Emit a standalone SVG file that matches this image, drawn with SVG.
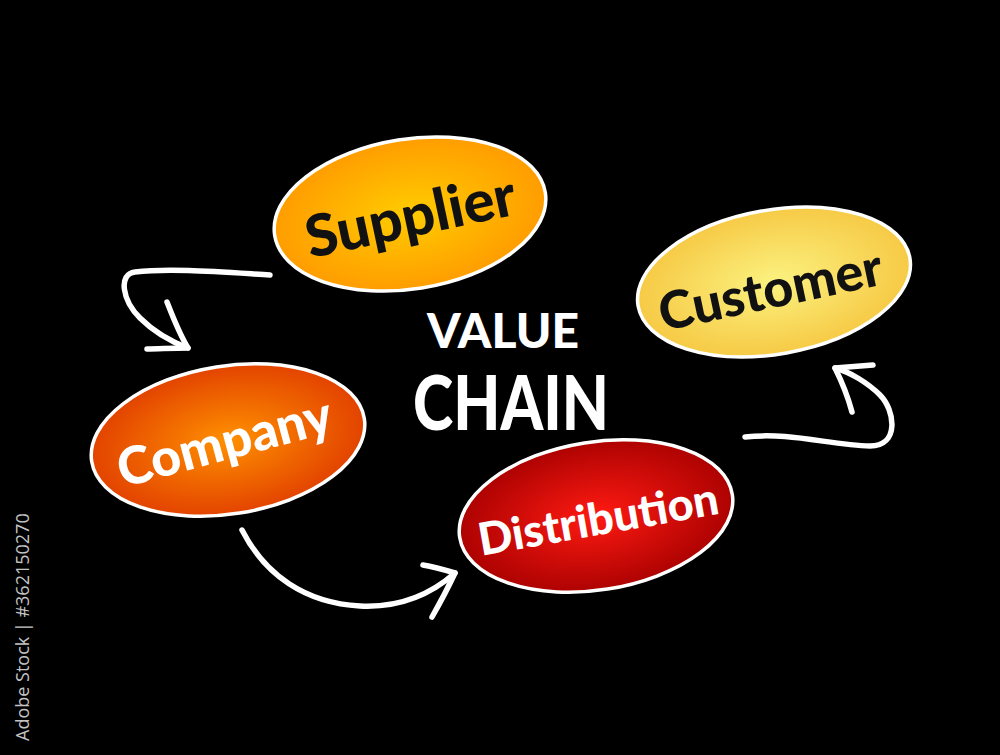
<svg xmlns="http://www.w3.org/2000/svg" width="1000" height="755" viewBox="0 0 1000 755">
<style>
.node-shape{stroke:#fff;stroke-width:3.5}
.lbl{font-family:"Lato","Liberation Sans",sans-serif;font-weight:900;text-anchor:middle;dominant-baseline:central}
.dark{fill:#111}
.light{fill:#fff}
.conn{fill:none;stroke:#fff;stroke-width:5.5;stroke-linecap:round;stroke-linejoin:round}
.title{font-family:"Lato","Liberation Sans",sans-serif;font-weight:900;fill:#fff;text-anchor:middle}
.side{font-family:"Open Sans","Liberation Sans",sans-serif;font-size:18px;fill:#c4c4c4}
</style>
<defs>
<radialGradient id="gSupplier" cx="50%" cy="50%" r="55%">
<stop offset="0" stop-color="#ffcc00"/><stop offset="1" stop-color="#ff9800"/>
</radialGradient>
<radialGradient id="gCustomer" cx="50%" cy="50%" r="55%">
<stop offset="0" stop-color="#fbf280"/><stop offset="1" stop-color="#f6c640"/>
</radialGradient>
<radialGradient id="gCompany" cx="50%" cy="50%" r="55%">
<stop offset="0" stop-color="#ff9000"/><stop offset="1" stop-color="#e03c00"/>
</radialGradient>
<radialGradient id="gDistribution" cx="50%" cy="50%" r="55%">
<stop offset="0" stop-color="#ff1a12"/><stop offset="1" stop-color="#a50000"/>
</radialGradient>
</defs>
<rect width="1000" height="755" fill="#000"/>

<g id="connectors">
<path class="conn" d="M270,275 C220,272 170,268 135,272 C118,274 122,300 140,318 C155,333 172,342 188,348"/>
<path class="conn" d="M167,302 C174,320 180,335 188,348 C172,348 158,349 147,349"/>
<path class="conn" d="M242,530 C265,575 305,603 360,606 C400,608 430,595 455,573"/>
<path class="conn" d="M423,565 C435,567 445,570 455,573 C447,590 440,603 432,617"/>
<path class="conn" d="M745,437 C790,432 830,445 870,446 C900,446 895,410 880,395 C868,383 850,372 835,368"/>
<path class="conn" d="M873,365 C860,366 848,367 835,368 C842,382 848,397 852,412"/>
</g>

<g id="node-supplier">
<ellipse class="node-shape" cx="410" cy="214" rx="137" ry="75" transform="rotate(-9 410 214)" fill="url(#gSupplier)"/>
<text class="lbl dark" x="410" y="214" font-size="58" transform="rotate(-12 410 214)">Supplier</text>
</g>

<g id="node-customer">
<ellipse class="node-shape" cx="774" cy="282" rx="138" ry="72" transform="rotate(-10 774 282)" fill="url(#gCustomer)"/>
<text class="lbl dark" x="770" y="288" font-size="52" transform="rotate(-12 770 288)">Customer</text>
</g>

<g id="node-company">
<ellipse class="node-shape" cx="228" cy="440" rx="138" ry="74" transform="rotate(-9 228 440)" fill="url(#gCompany)"/>
<text class="lbl light" x="224" y="440" font-size="52" transform="rotate(-15 224 440)">Company</text>
</g>

<g id="node-distribution">
<ellipse class="node-shape" cx="596" cy="516" rx="138" ry="74" transform="rotate(-9 596 516)" fill="url(#gDistribution)"/>
<text class="lbl light" x="598" y="518" font-size="45" transform="rotate(-10 598 518)">Distribution</text>
</g>

<g id="title">
<text class="title" x="503" y="348" font-size="48">VALUE</text>
<text class="title" x="511" y="430" font-size="76" textLength="196" lengthAdjust="spacingAndGlyphs">CHAIN</text>
</g>

<text class="side" transform="translate(29 741) rotate(-90)">Adobe Stock | #362150270</text>
</svg>
